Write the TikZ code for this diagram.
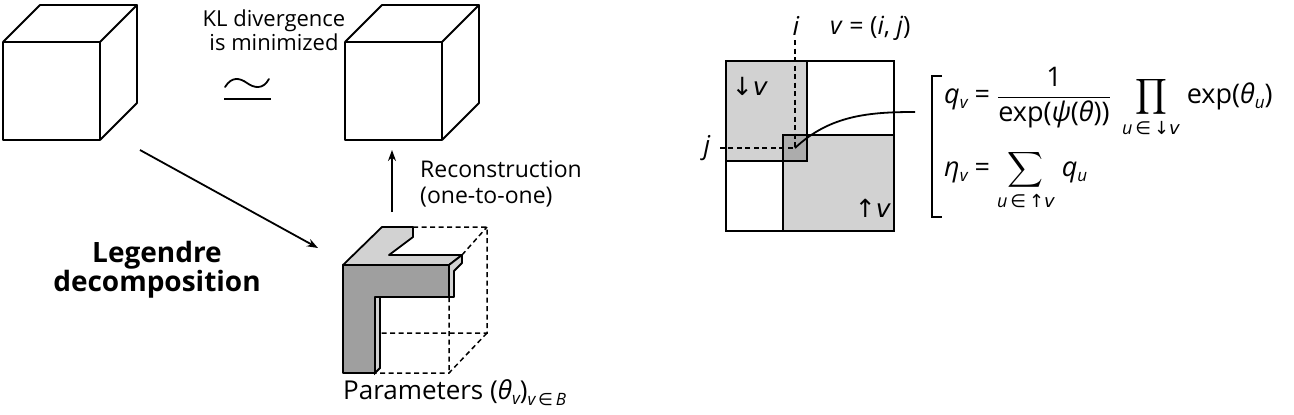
\documentclass[tikz,border=0pt]{standalone}
\usepackage{amsmath}
\usepackage{fontspec}
\setmainfont{Open Sans}
\newfontfamily\sym{DejaVu Sans}
\newcommand\sbx[1]{\raisebox{-5pt}{\fontsize{17}{17}\selectfont\itshape #1}}
\usetikzlibrary{arrows.meta}
\begin{document}
\begin{tikzpicture}[x=1pt,y=-1pt,
  lbl/.style={font=\fontsize{21}{25}\selectfont,inner sep=0pt,align=center},
  edge/.style={line width=1.8pt},
  dsh/.style={line width=1.5pt,dash pattern=on 5pt off 3.5pt},
  arr/.style={line width=1.8pt,-{Stealth[length=11pt,width=8pt]}}]
\useasboundingbox (0,0) rectangle (1294,415);
% left cube
\draw[edge,line join=round] (3,42) rectangle (100,140) (3,42)--(40,5)--(137,5)--(100,42) (137,5)--(137,103)--(100,140);
\coordinate (cubeA) at (140,150);
% right cube
\draw[edge,line join=round] (345,42) rectangle (442,140) (345,42)--(382,5)--(479,5)--(442,42) (479,5)--(479,103)--(442,140);
\node[lbl,font=\fontsize{22}{27}\selectfont] (kl) at (274,30) {KL divergence\\[-3pt]is minimized};
\draw[line width=1.8pt,line cap=round] (225,87) .. controls (232,76) and (240,78) .. (247,83) .. controls (254,88) and (263,90) .. (269,79);
\draw[line width=1.8pt] (224,99) -- (271,99);
% L shape
\draw[dsh] (413,227)--(487,227)--(487,333)--(380,333) (462,255)--(487,227) (487,333)--(449,373)--(375,373) (449,297)--(449,373) (380,297)--(380,333);
\draw[edge,fill=gray!35,line join=round] (343,265)--(382,227)--(413,227)--(413,237)--(389,255)--(462,255)--(449,265)--cycle;
\draw[edge,fill=gray!35,line join=round] (449,265)--(462,255)--(462,263)--(454,271)--(454,297)--(449,297)--cycle;
\draw[edge,fill=gray!35] (375,297)--(380,297)--(380,368)--(375,373)--cycle;
\draw[edge,fill=gray!75,line join=round] (343,265)--(449,265)--(449,297)--(375,297)--(375,373)--(343,373)--cycle;
\coordinate (Ltop) at (392,212);
\coordinate (Lleft) at (318,248);
\node[lbl,font=\fontsize{26}{28}\selectfont,anchor=north west] (par) at (343,379) {Parameters (\textit{θ}\sbx{v})\raisebox{-6pt}{\fontsize{17}{17}\selectfont\itshape v\,{\sym∈}\,B}};
\draw[arr] (cubeA) -- (Lleft);
\draw[arr] (Ltop) -- (392,150);
\node[lbl,font=\fontsize{28}{31}\selectfont\bfseries] (leg) at (157,270) {Legendre\\[-2pt]decomposition};
\node[lbl,font=\fontsize{23}{28}\selectfont,align=left,anchor=west] (rec) at (420,184) {Reconstruction\\[-2pt](one-to-one)};
% matrix
\fill[gray!35] (726,61) rectangle (807,161);
\fill[gray!35] (783,135) rectangle (894,231);
\fill[gray!65] (783,135) rectangle (807,161);
\draw[line width=2pt] (726,61) rectangle (807,161) (783,135) rectangle (894,231) (726,61) rectangle (894,231);
\draw[line width=1.4pt] (807,61)--(894,61) (726,161)--(783,161);
\draw[dsh] (795,40)--(795,148)--(718,148);
\node[lbl,font=\fontsize{26}{26}\selectfont\itshape] (i) at (796,26) {i};
\node[lbl,font=\fontsize{26}{26}\selectfont\itshape] (j) at (707,148) {j};
\node[lbl,font=\fontsize{25}{26}\selectfont,anchor=west] (vij) at (830,28) {\textit{v} = (\textit{i}, \textit{j})};
\node[lbl,font=\fontsize{25}{26}\selectfont] (dv) at (750,86) {\sym↓\textit{v}};
\node[lbl,font=\fontsize{25}{26}\selectfont] (uv) at (873,208) {\sym↑\textit{v}};
\coordinate (vv) at (795,148);
\draw[line width=1.8pt] (vv) .. controls (830,115) and (870,112) .. (915,112);
\draw[line width=1.8pt] (942,76)--(932,76)--(932,217)--(942,217);
\node[lbl,anchor=west,font=\fontsize{27}{28}\selectfont] (q) at (944,102) {\textit{q}\sbx{v} = $\dfrac{\text{1}}{\text{exp(\textit{ψ}(\textit{θ}))}}\ \displaystyle\prod_{\text{\fontsize{18}{18}\selectfont\itshape u\,{\sym∈}\,\sym↓v}}$ exp(\textit{θ}\sbx{u})};
\node[lbl,anchor=west,font=\fontsize{27}{28}\selectfont] (eta) at (944,180) {\textit{η}\sbx{v} = $\displaystyle\sum_{\text{\fontsize{18}{18}\selectfont\itshape u\,{\sym∈}\,\sym↑v}}$ \textit{q}\sbx{u}};
\end{tikzpicture}
\end{document}
